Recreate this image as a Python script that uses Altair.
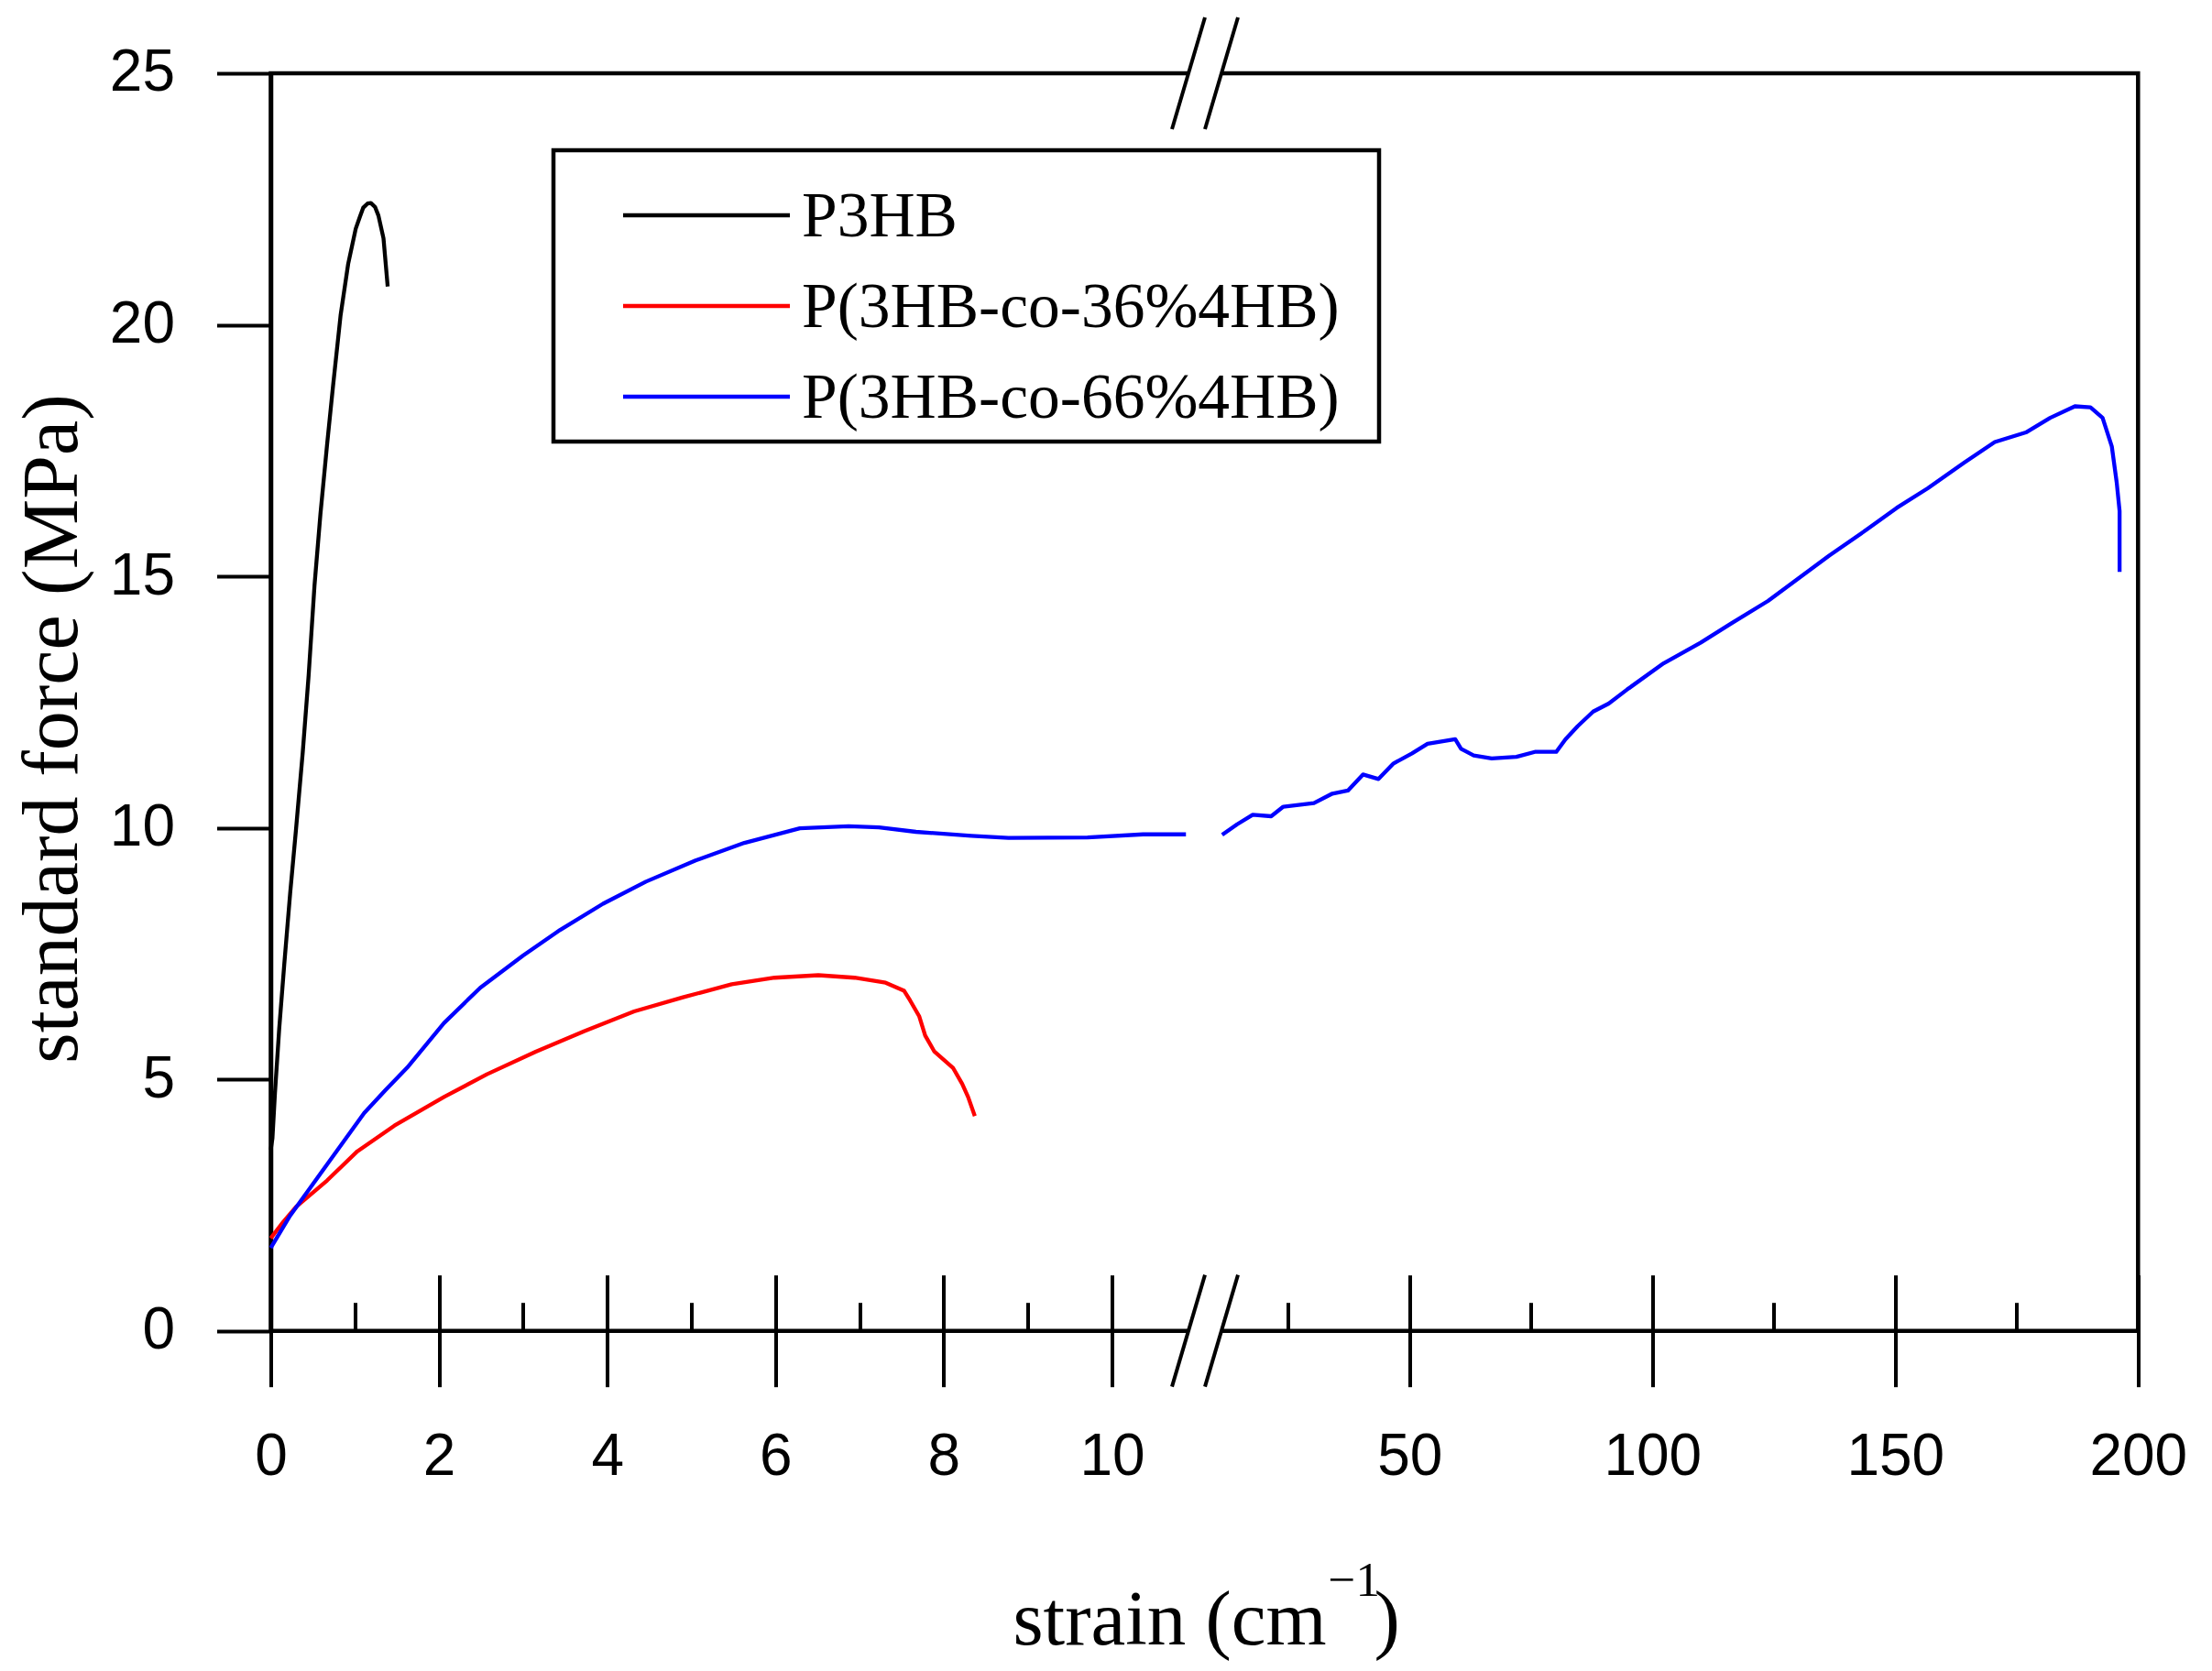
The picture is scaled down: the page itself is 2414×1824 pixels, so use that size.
import altair as alt
import pandas as pd

# ---------------- data ----------------
series_names = ["P3HB", "P(3HB-co-36%4HB)", "P(3HB-co-66%4HB)"]
series_colors = ["#000000", "#ff0000", "#0000ff"]

p3hb_strain = [0.00, 0.02, 0.05, 0.10, 0.16, 0.23, 0.30, 0.38, 0.45, 0.52, 0.59,
               0.67, 0.74, 0.83, 0.92, 1.01, 1.06, 1.10, 1.15, 1.19, 1.24, 1.28,
               1.34, 1.39]
p3hb_force = [3.60, 3.83, 4.73, 6.00, 7.28, 8.69, 9.97, 11.50, 13.03, 14.82, 16.23,
              17.63, 18.78, 20.19, 21.21, 21.91, 22.15, 22.33, 22.41, 22.42, 22.34,
              22.17, 21.72, 20.76]

p36_strain = [0.00, 0.15, 0.31, 0.67, 1.03, 1.47, 2.06, 2.57, 3.15, 3.73, 4.32, 4.90,
              5.48, 5.99, 6.51, 6.94, 7.31, 7.53, 7.60, 7.71, 7.78, 7.89, 8.11, 8.22,
              8.29, 8.37]
p36_force = [1.84, 2.17, 2.48, 2.99, 3.57, 4.08, 4.65, 5.10, 5.55, 5.96, 6.35, 6.63,
             6.89, 7.02, 7.07, 7.02, 6.92, 6.76, 6.57, 6.25, 5.87, 5.55, 5.23, 4.91,
             4.65, 4.27]

p66_left_strain = [0.00, 0.23, 0.45, 0.67, 0.89, 1.11, 1.36, 1.62, 2.06, 2.49, 3.00,
                   3.44, 3.95, 4.46, 5.05, 5.63, 6.29, 6.87, 7.23, 7.67, 8.33, 8.77,
                   9.71, 10.37, 10.88]
p66_left_force = [1.65, 2.29, 2.80, 3.31, 3.82, 4.33, 4.78, 5.23, 6.12, 6.82, 7.46,
                  7.97, 8.49, 8.93, 9.35, 9.70, 9.99, 10.03, 10.01, 9.92, 9.84, 9.80,
                  9.81, 9.87, 9.87]

p66_right_strain = [11.4, 14.5, 17.7, 21.5, 24.0, 30.3, 34.1, 37.3, 40.4, 43.6, 46.7,
                    50.5, 53.7, 59.4, 60.6, 63.2, 66.9, 72.0, 75.8, 80.2, 82.1, 84.6,
                    87.8, 91.0, 94.8, 102.3, 109.9, 116.2, 123.8, 130.1, 136.4, 144.0,
                    150.3, 156.7, 164.2, 170.5, 176.9, 181.9, 187.0, 190.2, 192.7,
                    194.6, 195.6, 196.2, 196.2]
p66_right_force = [9.86, 10.07, 10.26, 10.23, 10.42, 10.49, 10.68, 10.74, 11.06, 10.97,
                   11.28, 11.48, 11.67, 11.76, 11.57, 11.44, 11.38, 11.41, 11.51, 11.51,
                   11.76, 12.02, 12.31, 12.47, 12.75, 13.27, 13.68, 14.06, 14.51, 14.96,
                   15.41, 15.92, 16.36, 16.75, 17.26, 17.67, 17.86, 18.15, 18.38, 18.36,
                   18.15, 17.58, 16.87, 16.30, 15.09]

x_major_ticks = [0, 2, 4, 6, 8, 10, 50, 100, 150, 200]
x_minor_ticks = [1, 3, 5, 7, 9, 25, 75, 125, 175]
y_ticks = [0, 5, 10, 15, 20, 25]

# broken x axis: strain break points
break_lo, break_hi = 10.91, 11.26

# ---------------- layout (pixels) ----------------
W, H = 2037.8, 1372.7
x_range = [0, 1001.5, 1037.5, W]          # piecewise linear (broken) axis
CURVE_W = 4.3
TICK_W = 4
FRAME_W = 4.5

rows = []
def add(series, seg, xs, ys):
    for a, b in zip(xs, ys):
        rows.append({"series": series, "segment": f"{series}-{seg}", "strain": a,
                     "force": b, "idx": len(rows)})

add(series_names[0], 0, p3hb_strain, p3hb_force)
add(series_names[1], 0, p36_strain, p36_force)
add(series_names[2], 0, p66_left_strain, p66_left_force)
add(series_names[2], 1, p66_right_strain, p66_right_force)
df = pd.DataFrame(rows)

xscale = alt.Scale(type="linear", domain=[0, break_lo, break_hi, 200], range=x_range,
                   zero=False, nice=False)
yscale = alt.Scale(domain=[0, 25], zero=False, nice=False)

lines = alt.Chart(df).mark_line(strokeWidth=CURVE_W, strokeJoin="round").encode(
    x=alt.X("strain:Q", scale=xscale,
            axis=alt.Axis(orient="bottom", offset=-61, values=x_major_ticks,
                          tickSize=122, tickWidth=TICK_W, tickColor="black",
                          domain=False, grid=False, labelFlush=False, labelOverlap=False,
                          labelFont="Liberation Sans", labelFontSize=64,
                          labelColor="black", labelPadding=45, title=None)),
    y=alt.Y("force:Q", scale=yscale,
            axis=alt.Axis(values=y_ticks, tickSize=59, tickWidth=TICK_W,
                          tickColor="black", domain=True, domainColor="black",
                          domainWidth=FRAME_W, grid=False,
                          labelFont="Liberation Sans", labelFontSize=64,
                          labelColor="black", labelPadding=46,
                          title="standard force (MPa)", titleFont="Liberation Serif",
                          titleFontSize=86, titleFontWeight="normal", titleColor="black",
                          titleAngle=270, titleAlign="center", titleBaseline="alphabetic",
                          titleX=-212.5, titleY=715)),
    color=alt.Color("series:N", scale=alt.Scale(domain=series_names, range=series_colors),
                    legend=None),
    detail="segment:N",
    order="idx:Q",
)

minor = alt.Chart(pd.DataFrame({"tick": x_minor_ticks})).mark_point(opacity=0).encode(
    x=alt.X("tick:Q",
            axis=alt.Axis(orient="top", offset=-H, values=x_minor_ticks, tickSize=31,
                          tickWidth=TICK_W, tickColor="black", labels=False,
                          domain=False, grid=False, title=None)),
    y=alt.value(0),
)

one = pd.DataFrame({"k": [0]})
layers = [lines, minor]

# white gaps in top and bottom frame at the break
p_lo, p_hi = x_range[1], x_range[2]
for yy in [0, H]:
    layers.append(alt.Chart(one).mark_rule(color="white", strokeWidth=10).encode(
        x=alt.value(p_lo + 1), x2=alt.value(p_hi - 1), y=alt.value(yy)))
# slanted break marks
for yy in [0, H]:
    for cx in [p_lo, p_hi]:
        layers.append(alt.Chart(one).mark_rule(color="black", strokeWidth=TICK_W).encode(
            x=alt.value(cx - 18), y=alt.value(yy + 61),
            x2=alt.value(cx + 18), y2=alt.value(yy - 61)))

# legend box
lx0, lx1, ly0, ly1 = 308.5, 1209.5, 84, 402
layers.append(alt.Chart(one).mark_rect(fill="white", stroke="black", strokeWidth=FRAME_W).encode(
    x=alt.value(lx0), x2=alt.value(lx1), y=alt.value(ly0), y2=alt.value(ly1)))
for i, (name, col) in enumerate(zip(series_names, series_colors)):
    yc = 155 + 99 * i
    layers.append(alt.Chart(one).mark_rule(color=col, strokeWidth=CURVE_W).encode(
        x=alt.value(384.5), x2=alt.value(566.5), y=alt.value(yc)))
    layers.append(alt.Chart(pd.DataFrame({"name": [name]})).mark_text(
        font="Liberation Serif", fontSize=69.5, align="left", baseline="alphabetic",
        color="black").encode(text="name:N", x=alt.value(579.5), y=alt.value(yc + 23.5)))

# x-axis title with superscript
for txt, xx, yy, fs in [("strain (cm", 810, 1715, 85), ("\u22121", 1154, 1662, 53),
                        (")", 1204, 1715, 85)]:
    layers.append(alt.Chart(one).mark_text(
        text=txt, font="Liberation Serif", fontSize=fs, align="left",
        baseline="alphabetic", color="black").encode(x=alt.value(xx), y=alt.value(yy)))

chart = alt.layer(*layers).resolve_axis(x="independent").properties(
    width=W, height=H,
    autosize=alt.AutoSizeParams(type="none"),
    padding={"left": 287.5, "top": 72, "right": 60, "bottom": 362},
    background="white",
).configure_view(stroke="black", strokeWidth=FRAME_W)

chart.save("out.html", embed_options={"renderer": "svg", "actions": False})
